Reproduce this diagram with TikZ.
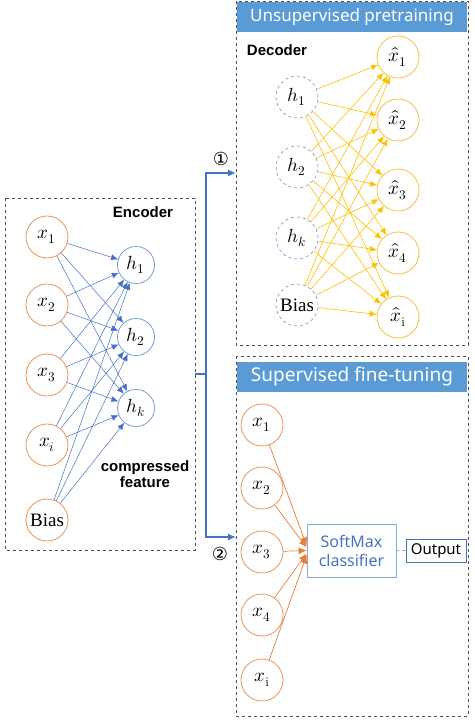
\documentclass[tikz,border=0pt]{standalone}
\usepackage{fontspec}
\usepackage{unicode-math}
\setmathfont{Latin Modern Math}
\setsansfont{Noto Sans}
\newfontfamily\biasfont{Liberation Serif}
\newfontfamily\boldsans{Liberation Sans}
\newfontfamily\symfont{DejaVu Sans}
\usetikzlibrary{arrows.meta,calc}
\definecolor{xorange}{RGB}{228,150,92}
\definecolor{hblue}{RGB}{105,145,212}
\definecolor{goldc}{RGB}{245,195,60}
\definecolor{goldarrow}{RGB}{255,192,0}
\definecolor{encblue}{RGB}{68,114,196}
\definecolor{ftorange}{RGB}{237,125,49}
\definecolor{headblue}{RGB}{91,155,213}
\definecolor{smborder}{RGB}{142,169,219}
\definecolor{dashgray}{RGB}{80,80,80}
\tikzset{
  lbl/.style={font=\fontsize{19}{19}\selectfont},
  biaslbl/.style={font=\biasfont\fontsize{19}{19}\selectfont},
  xin/.style={circle,draw=xorange,line width=0.8pt,minimum size=42pt,inner sep=0pt,lbl},
  hen/.style={circle,draw=hblue,line width=0.7pt,minimum size=37pt,inner sep=0pt,lbl},
  hde/.style={circle,draw=hblue,dashed,line width=0.6pt,minimum size=42pt,inner sep=0pt,lbl},
  xhat/.style={circle,draw=goldc,line width=0.8pt,minimum size=42pt,inner sep=0pt,lbl},
  dbox/.style={draw=dashgray,dashed,line width=0.8pt},
  header/.style={fill=headblue,text=white,inner sep=0pt,font=\sffamily\fontsize{17}{18}\selectfont},
  boldlbl/.style={font=\boldsans\bfseries\fontsize{15}{17}\selectfont,align=center},
  encarr/.style={draw=encblue,line width=0.5pt,-{Latex[length=7pt,width=6pt]}},
  decarr/.style={draw=goldarrow,line width=0.6pt,-{Latex[length=7pt,width=6pt]}},
  ftarr/.style={draw=ftorange,line width=0.7pt,-{Latex[length=8pt,width=7pt]}},
  conn/.style={draw=encblue,line width=1.6pt},
  circnum/.style={font=\symfont\fontsize{18}{18}\selectfont},
}
\begin{document}
\begin{tikzpicture}[x=1pt,y=-1pt]
\useasboundingbox (0,0) rectangle (474,720);
% boxes
\draw[dbox] (5,198) rectangle (195,550);
\coordinate (encE) at (195,374);
\draw[dbox] (236,1) rectangle (468,345);
\coordinate (decW) at (236,173);
\draw[dbox] (236,356) rectangle (468,716);
\coordinate (supW) at (236,537);
\node[header,minimum width=230pt,minimum height=30pt] (head1) at (352,17) {Unsupervised pretraining};
\node[header,minimum width=230pt,minimum height=30pt,font=\sffamily\fontsize{19}{20}\selectfont] (head2) at (352,377) {Supervised fine-tuning};
% encoder
\node[boldlbl] (enclbl) at (143,212) {Encoder};
\node[boldlbl] (comp) at (145,474) {compressed\\[-1pt]feature};
\node[xin] (ex1) at (47,237) {$x_1$};
\node[xin] (ex2) at (47,305) {$x_2$};
\node[xin] (ex3) at (47,375) {$x_3$};
\node[xin] (exi) at (47,445) {$x_i$};
\node[xin,biaslbl] (eb) at (47,520) {Bias};
\node[hen] (eh1) at (136,265) {$h_1$};
\node[hen] (eh2) at (136,337) {$h_2$};
\node[hen] (ehk) at (136,408) {$h_k$};
\foreach \s in {ex1,ex2,ex3,exi,eb}
  \foreach \t in {eh1,eh2,ehk}
    \draw[encarr] (\s) -- (\t);
% decoder
\node[boldlbl] (declbl) at (277,50) {Decoder};
\node[hde] (dh1) at (297,97) {$h_1$};
\node[hde] (dh2) at (297,167) {$h_2$};
\node[hde] (dhk) at (297,238) {$h_k$};
\node[hde,biaslbl] (db) at (297,305) {Bias};
\node[xhat] (dx1) at (398,57) {$\hat{x}_1$};
\node[xhat] (dx2) at (398,120) {$\hat{x}_2$};
\node[xhat] (dx3) at (398,190) {$\hat{x}_3$};
\node[xhat] (dx4) at (398,253) {$\hat{x}_4$};
\node[xhat] (dxi) at (398,317) {$\hat{x}_{\mathrm{i}}$};
\foreach \s in {dh1,dh2,dhk,db}
  \foreach \t in {dx1,dx2,dx3,dx4,dxi}
    \draw[decarr] (\s) -- (\t);
% fine-tuning
\node[xin] (fx1) at (262,425) {$x_1$};
\node[xin] (fx2) at (262,488) {$x_2$};
\node[xin] (fx3) at (262,552) {$x_3$};
\node[xin] (fx4) at (262,615) {$x_4$};
\node[xin] (fxi) at (262,680) {$x_{\mathrm{i}}$};
\node[draw=smborder,line width=0.8pt,minimum width=89pt,minimum height=53pt,align=center,text=encblue,font=\sffamily\fontsize{16}{19}\selectfont] (sm) at (351.5,550.5) {SoftMax\\classifier};
\node[draw=encblue,line width=0.7pt,minimum width=60pt,minimum height=23pt,inner sep=0pt,font=\sffamily\fontsize{15}{16}\selectfont] (out) at (436,550.5) {Output};
\draw[draw=smborder,dashed,line width=0.6pt] (sm) -- (out);
\draw[ftarr] (fx1) -- ($(sm.west)+(0,-5)$);
\draw[ftarr] (fx2) -- ($(sm.west)+(0,-3)$);
\draw[ftarr] (fx3) -- ($(sm.west)+(0,0)$);
\draw[ftarr] (fx4) -- ($(sm.west)+(0,3)$);
\draw[ftarr] (fxi) -- ($(sm.west)+(0,5)$);
% connector
\coordinate (jt) at (206,173);
\coordinate (jb) at (206,537);
\draw[conn] (encE) -- (encE -| jt);
\draw[conn,line cap=rect] (jt) -- (jb);
\draw[conn,-{Latex[length=8pt,width=7pt]}] (jt) -- (decW);
\draw[conn,-{Latex[length=8pt,width=7pt]}] (jb) -- (supW);
\node[circnum] (n1) at (221,159) {①};
\node[circnum] (n2) at (220,554) {②};
\end{tikzpicture}
\end{document}
